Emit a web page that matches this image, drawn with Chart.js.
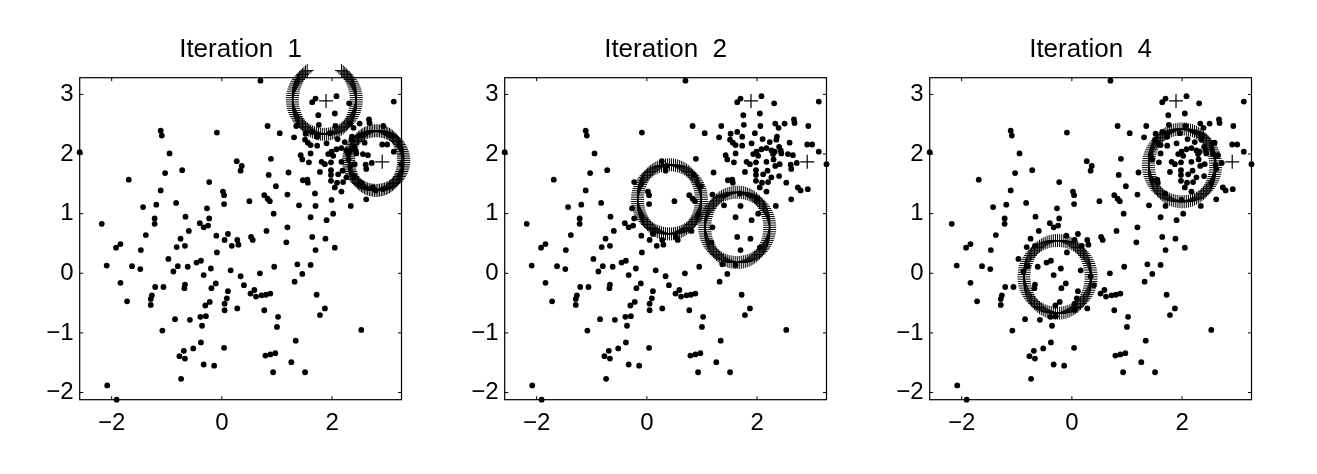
<!DOCTYPE html>
<html><head><meta charset="utf-8">
<script src="https://cdn.jsdelivr.net/npm/chart.js@4/dist/chart.umd.min.js"></script>
<style>
html,body{margin:0;padding:0;background:#fff;}
#wrap{position:relative;width:1317px;height:474px;background:#fff;}
.panel{position:absolute;top:0;width:425px;height:474px;}
</style></head><body>
<div id="wrap">
<div class="panel" style="left:0px"><canvas id="c0" width="425" height="474"></canvas></div>
<div class="panel" style="left:425px"><canvas id="c1" width="425" height="474"></canvas></div>
<div class="panel" style="left:850px"><canvas id="c2" width="425" height="474"></canvas></div>
</div>
<script>
// ---------- data ----------
const titles = ["Iteration  1", "Iteration  2", "Iteration  4"];
const xLimits = [-2.58, 3.26];
const yLimits = [-2.12, 3.28];
const xTickStep = 2;
const yTickStep = 1;

// observed samples (x, y) - identical in every panel
const points = [
[-2.58,2.03],[-1.11,2.39],[-1.09,2.31],[-0.95,2.01],[-1.03,1.68],[-0.72,1.73],[-1.69,1.57],
[0.70,3.23],[-0.09,2.36],[0.83,2.47],[1.05,2.35],[1.35,2.47],[1.31,2.28],[0.89,1.92],[1.21,1.69],
[1.64,2.87],[1.70,2.93],[2.08,2.97],[2.31,2.85],[3.12,2.88],[1.75,2.65],[2.05,2.68],
[1.76,2.49],[2.06,2.47],[2.33,2.51],[2.39,2.44],[2.50,2.51],[2.67,2.58],[2.68,2.52],[2.93,2.47],
[1.52,2.34],[1.64,2.37],[1.73,2.29],[1.96,2.35],
[1.51,2.24],[1.56,2.19],[1.61,2.15],[1.73,2.14],[1.90,2.18],[2.10,2.25],[2.23,2.20],[2.36,2.29],[2.35,2.24],[2.59,2.19],[2.91,2.16],[3.00,2.16],[3.12,2.04],
[1.99,2.04],[2.08,2.08],[2.17,2.10],[2.26,2.06],[2.32,2.04],[2.40,2.12],[2.43,2.06],[2.44,2.01],[2.29,2.00],[2.02,1.97],[1.93,2.00],
[1.43,1.98],[1.46,1.91],[1.58,1.86],[1.61,2.01],[1.81,1.87],[1.87,1.83],[1.98,1.86],[2.17,1.87],[2.30,1.91],[2.56,2.00],[2.65,1.98],[2.61,1.82],[2.62,1.75],[2.72,1.85],[2.33,1.80],[2.41,1.83],[3.26,1.83],
[1.78,1.70],[1.98,1.73],[2.19,1.72],[2.11,1.66],[2.26,1.61],[1.98,1.65],[2.40,1.63],[1.98,1.55],[2.09,1.52],[2.20,1.53],[2.53,1.52],
[-1.11,1.39],[-1.43,1.11],[-1.19,1.15],[-0.83,1.18],[-0.66,0.95],[-2.18,0.83],[-1.22,0.92],[-1.22,0.83],[-1.38,0.64],[-0.75,0.58],
[-1.92,0.43],[-1.84,0.49],[-1.47,0.39],[-0.82,0.44],[-0.67,0.46],[-0.97,0.24],[-2.09,0.13],[-1.63,0.12],[-1.48,0.07],[-0.80,0.12],
[-0.88,0.03],[-1.84,-0.16],[-1.21,-0.23],[-1.06,-0.23],[-0.67,-0.19],[-0.68,-0.25],
[0.02,1.37],[0.04,1.31],[0.04,1.16],[0.50,1.21],[-0.27,1.09],[-0.23,0.92],[-0.40,0.84],[-0.33,0.77],[-0.25,0.80],[-0.60,0.71],
[-0.10,0.63],[0.11,0.66],[0.05,0.56],[0.28,0.56],[0.30,0.48],[0.18,0.46],[-0.09,0.35],[1.17,0.52],[-0.38,0.21],[-0.46,0.18],
[-0.62,0.11],[-0.20,0.08],[0.16,0.05],[0.95,0.11],[0.69,0.00],[-0.33,-0.03],[0.34,-0.05],[-0.11,-0.17],[0.40,-0.20],[-0.19,-0.25],
[0.11,-0.30],[0.59,-0.28],[0.52,-0.34],[0.62,-0.39],[0.72,-0.37],[0.80,-0.36],[0.88,-0.34],
[0.27,1.88],[0.36,1.80],[0.34,1.72],[0.85,1.65],[-0.23,1.53],[0.98,1.46],[0.77,1.31],[0.83,1.25],[0.87,1.21],[1.19,1.32],
[0.94,1.00],[0.53,0.61],[0.56,0.56],[0.81,0.71],[1.19,0.77],
[1.47,1.56],[1.55,1.57],[1.56,1.52],[1.69,1.34],[1.99,1.23],[2.05,0.43],[1.37,0.15],
[2.05,1.44],[2.17,1.37],[2.74,1.44],[2.79,1.39],[2.92,1.41],[2.62,1.24],[2.34,1.13],[1.40,1.14],[1.70,1.13],[1.61,0.94],
[1.90,0.89],[2.02,1.00],[1.64,0.61],[1.88,0.58],[1.70,0.39],[1.61,0.14],[1.46,-0.01],[1.32,-0.14],[1.72,-0.36],
[-1.72,-0.47],[-1.27,-0.37],[-1.29,-0.43],[-1.29,-0.53],[-0.85,-0.77],[-1.08,-0.96],[-0.69,-1.30],[-0.77,-1.39],[-0.67,-1.43],[-0.74,-1.77],
[-2.08,-1.88],[-1.91,-2.12],
[0.09,-0.42],[-0.22,-0.48],[-0.30,-0.54],[0.05,-0.51],[0.05,-0.62],[0.28,-0.59],[-0.39,-0.73],[-0.29,-0.72],[-0.58,-0.78],[-0.36,-0.88],
[0.77,-0.62],[1.02,-0.73],[1.00,-0.90],[1.34,-1.13],[-0.38,-1.16],[-0.52,-1.26],[0.04,-1.25],[0.79,-1.38],[0.88,-1.36],[0.97,-1.34],
[-0.33,-1.53],[-0.14,-1.55],[1.26,-1.49],[0.93,-1.66],
[1.87,-0.59],[1.78,-0.70],[2.53,-0.95],[1.51,-1.66]
];

// large "+" markers (same in every panel)
const markerX = [1.89, 2.91];
const markerY = [2.89, 1.87];

// current component estimates per panel: centre and radius of each ring
const ringCenterX = [[1.86, 2.80], [0.41, 1.64], [-0.26, 2.00]];
const ringCenterY = [[2.91, 1.89], [1.24, 0.77], [-0.06, 1.81]];
const ringRadius  = [[0.58, 0.50], [0.58, 0.59], [0.61, 0.61]];
const RING_MARKERS = 100;

// ---------- drawing ----------
const FONT = "'Liberation Sans', Arial, Helvetica, sans-serif";
const TICK_FS = 24;
const TITLE_FS = 26;

function ringPoints(cx, cy, r) {
  const pts = [];
  for (let k = 0; k < RING_MARKERS; k++) {
    const a = 2 * Math.PI * k / RING_MARKERS;
    pts.push({x: cx + r * Math.cos(a), y: cy + r * Math.sin(a)});
  }
  return pts;
}

const boxPlugin = {
  id: 'boxTicks',
  afterDatasetsDraw(chart) {
    const {ctx, chartArea: a, scales: {x, y}} = chart;
    const TL = 3.5;
    ctx.save();
    ctx.strokeStyle = '#000';
    ctx.lineWidth = 1.2;
    ctx.strokeRect(a.left, a.top, a.right - a.left, a.bottom - a.top);
    ctx.lineWidth = 1;
    ctx.beginPath();
    x.ticks.forEach(t => {
      const px = x.getPixelForValue(t.value);
      ctx.moveTo(px, a.bottom); ctx.lineTo(px, a.bottom - TL);
      ctx.moveTo(px, a.top); ctx.lineTo(px, a.top + TL);
    });
    y.ticks.forEach(t => {
      const py = y.getPixelForValue(t.value);
      ctx.moveTo(a.left, py); ctx.lineTo(a.left + TL, py);
      ctx.moveTo(a.right, py); ctx.lineTo(a.right - TL, py);
    });
    ctx.stroke();
    ctx.restore();
  }
};

function fmt(v) { return v < 0 ? '\u2212' + Math.abs(v) : String(v); }

function makeChart(i) {
  const datasets = [];
  datasets.push({
    data: markerX.map((mx, k) => ({x: mx, y: markerY[k]})),
    pointStyle: 'cross', pointRadius: 7, pointBorderColor: '#000', pointBorderWidth: 1.2,
    showLine: false, clip: false
  });
  for (let j = 0; j < ringCenterX[i].length; j++) {
    datasets.push({
      data: ringPoints(ringCenterX[i][j], ringCenterY[i][j], ringRadius[i][j]),
      pointStyle: 'cross', pointRadius: 6.5, pointBorderColor: '#000', pointBorderWidth: 1,
      showLine: false, clip: false
    });
  }
  datasets.push({
    data: points.map(p => ({x: p[0], y: p[1]})),
    pointStyle: 'circle', pointRadius: 2.9, pointBackgroundColor: '#000', pointBorderWidth: 0,
    showLine: false, clip: false
  });

  new Chart(document.getElementById('c' + i), {
    type: 'scatter',
    data: {datasets},
    plugins: [boxPlugin],
    options: {
      responsive: false, animation: false, events: [],
      layout: {padding: {left: 0, right: 23.5, top: 0, bottom: 0}},
      plugins: {
        legend: {display: false}, tooltip: {enabled: false},
        title: {display: true, text: titles[i], color: '#000', fullSize: false,
                font: {family: FONT, size: TITLE_FS, weight: 'normal', lineHeight: 1.2},
                padding: {top: 34.4, bottom: 12.1}}
      },
      scales: {
        x: {type: 'linear', min: xLimits[0], max: xLimits[1],
            grid: {display: false, drawTicks: false}, border: {display: false},
            ticks: {stepSize: xTickStep, includeBounds: false, color: '#000', padding: 9,
                    font: {family: FONT, size: TICK_FS}, callback: fmt, maxRotation: 0},
            afterFit: s => { s.height = 74.3; }},
        y: {type: 'linear', min: yLimits[0], max: yLimits[1],
            grid: {display: false, drawTicks: false}, border: {display: false},
            ticks: {stepSize: yTickStep, includeBounds: false, color: '#000', padding: 6,
                    font: {family: FONT, size: TICK_FS}, callback: fmt},
            afterFit: s => { s.width = 79.7; }}
      }
    }
  });
}
[0, 1, 2].forEach(makeChart);
</script>
</body></html>
